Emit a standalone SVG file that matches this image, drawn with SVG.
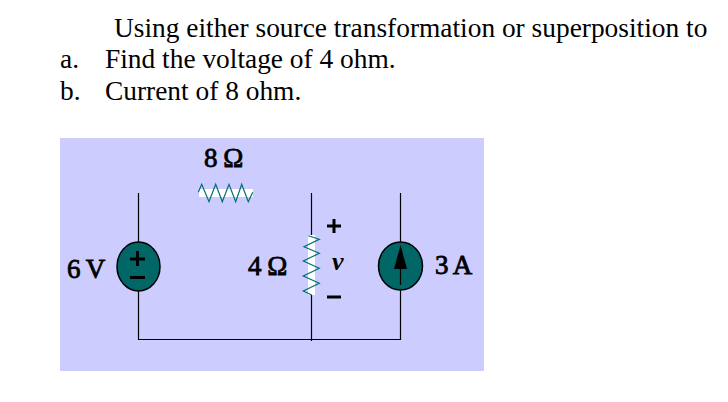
<svg xmlns="http://www.w3.org/2000/svg" width="728" height="402" viewBox="0 0 728 402">
<style>
.t{font-family:"Liberation Serif","Times New Roman",serif;font-size:27.4px;fill:#000}
.l{font-family:"Liberation Serif","Times New Roman",serif;font-size:27px;fill:#000;stroke:#000;stroke-width:.8;word-spacing:-1px}
.w{fill:none;stroke:#000;stroke-width:1.2}
.z{fill:none;stroke:#007070;stroke-width:1.2}
.s{fill:#006666;stroke:#000;stroke-width:1.5}
.m{fill:none;stroke:#000;stroke-width:3}
</style>
<rect width="728" height="402" fill="#fff"/>
<g id="text">
<text class="t" x="114" y="37">Using either source transformation or superposition to</text>
<text class="t" x="60" y="68">a.</text>
<text class="t" x="105" y="68">Find the voltage of 4 ohm.</text>
<text class="t" x="60" y="100">b.</text>
<text class="t" x="105" y="100">Current of 8 ohm.</text>
</g>
<rect id="panel" x="60" y="138" width="424" height="233" fill="#ccccff"/>
<g id="connectors">
<path class="w" d="M138.500 193V339.500H400.500V193"/>
<path class="w" d="M311.500 193V341"/>
</g>
<g id="r8">
<rect x="199" y="189" width="54" height="8" fill="#fff"/>
<path class="z" d="M198.300 192.300L201.700 184.300L209 201.700L215.700 184.300L222.300 201.700L229 184.300L235.700 201.700L241.700 184.300L248.300 201.700L252.700 192.300"/>
<text class="l" x="204" y="167">8 Ω</text>
</g>
<g id="r4">
<rect x="308" y="235" width="7" height="60" fill="#fff"/>
<path class="z" d="M308.300 235.700L319.300 239.300L304 246.700L319.300 253.300L303.300 261L319.300 268.300L303.300 276L319.300 283.300L303.300 291L311.700 295"/>
<text class="l" x="248" y="275">4 Ω</text>
<text x="332" y="270" style="font-family:'Liberation Serif',serif;font-style:italic;font-weight:bold;font-size:26px">v</text>
<path class="m" d="M327 226H341M334 219V233M327 297H341"/>
</g>
<g id="v6">
<ellipse class="s" cx="138.500" cy="266.500" rx="21.500" ry="24.500"/>
<path class="m" d="M130 259H145M137.500 251V266M130 277.500H145"/>
<text class="l" x="67" y="278">6 V</text>
</g>
<g id="i3">
<ellipse class="s" cx="400.500" cy="266" rx="22" ry="24"/>
<path d="M394 269L400.500 245L407 269Z" fill="#000"/>
<path class="w" d="M400.500 265V285"/>
<text class="l" x="435" y="274">3 A</text>
</g>
</svg>
